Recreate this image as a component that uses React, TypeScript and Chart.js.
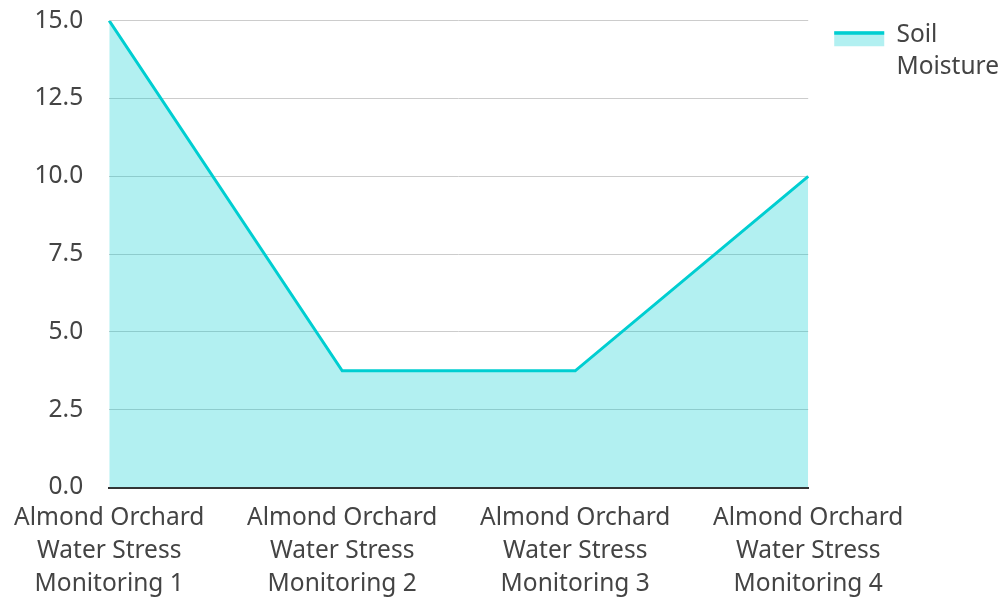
import React, { useEffect, useRef } from "react";
import { Chart, registerables } from "chart.js";

Chart.register(...registerables);

const categories: string[][] = [
  ["Almond Orchard", "Water Stress", "Monitoring 1"],
  ["Almond Orchard", "Water Stress", "Monitoring 2"],
  ["Almond Orchard", "Water Stress", "Monitoring 3"],
  ["Almond Orchard", "Water Stress", "Monitoring 4"],
];
const soilMoisture: number[] = [15, 3.75, 3.75, 10];
const seriesLabel: string[] = ["Soil", "Moisture"];

const LINE = "#00CED1";
const FILL = "rgba(0,206,209,0.3)";
const TEXT = "#444444";
const FONT = "'Noto Sans', sans-serif";
const FS = 24.5;

const legendBoxPlugin = {
  id: "legendBox",
  afterDraw(chart: any) {
    const legend = chart.legend;
    if (!legend || !legend.legendHitBoxes || !legend.legendHitBoxes.length) return;
    const hb = legend.legendHitBoxes[0];
    const opts = legend.options.labels;
    const top = hb.top + FS / 2 - 4;
    const ctx = chart.ctx;
    ctx.save();
    ctx.fillStyle = FILL;
    ctx.fillRect(hb.left, top, opts.boxWidth, 15);
    ctx.fillStyle = LINE;
    ctx.fillRect(hb.left, top, opts.boxWidth, 3.5);
    ctx.restore();
  },
};

export default function App() {
  const ref = useRef<HTMLCanvasElement | null>(null);
  useEffect(() => {
    document.body.style.margin = "0";
    if (!ref.current) return;
    const chart = new Chart(ref.current, {
      type: "line",
      data: {
        labels: categories,
        datasets: [
          {
            label: seriesLabel.join(" "),
            data: soilMoisture,
            borderColor: LINE,
            backgroundColor: FILL,
            borderWidth: 3,
            fill: "origin",
            pointRadius: 0,
            tension: 0,
          },
        ],
      },
      options: {
        animation: false,
        responsive: true,
        maintainAspectRatio: false,
        layout: { padding: { top: -3, right: -10, bottom: -17, left: -2 } },
        plugins: {
          tooltip: { enabled: false },
          legend: {
            position: "right",
            align: "start",
            labels: {
              boxWidth: 50,
              boxHeight: 15,
              padding: 26,
              color: TEXT,
              font: { family: FONT, size: FS, lineHeight: 1.3 },
              generateLabels: () => [
                {
                  text: seriesLabel as any,
                  fillStyle: "rgba(0,0,0,0)",
                  strokeStyle: "rgba(0,0,0,0)",
                  lineWidth: 0,
                  hidden: false,
                  datasetIndex: 0,
                  fontColor: TEXT,
                } as any,
              ],
            },
          },
        },
        scales: {
          x: {
            offset: false,
            grid: { display: false, drawTicks: false },
            border: { display: true, color: "#333333", width: 2 },
            ticks: {
              color: TEXT,
              padding: 14,
              maxRotation: 0,
              autoSkip: false,
              font: { family: FONT, size: FS, lineHeight: 1.34 },
            },
          },
          y: {
            min: 0,
            max: 15,
            grid: {
              color: "#cccccc",
              lineWidth: 1,
              drawTicks: true,
              tickLength: 20,
              tickColor: "rgba(0,0,0,0)",
            },
            border: { display: false },
            ticks: {
              stepSize: 2.5,
              color: TEXT,
              padding: 6,
              font: { family: FONT, size: FS },
              callback: (v: any) => Number(v).toFixed(1),
            },
          },
        },
      },
      plugins: [legendBoxPlugin],
    });
    return () => chart.destroy();
  }, []);
  return (
    <div style={{ position: "fixed", left: 0, top: 0, width: "100vw", height: "100vh" }}>
      <canvas ref={ref} />
    </div>
  );
}
